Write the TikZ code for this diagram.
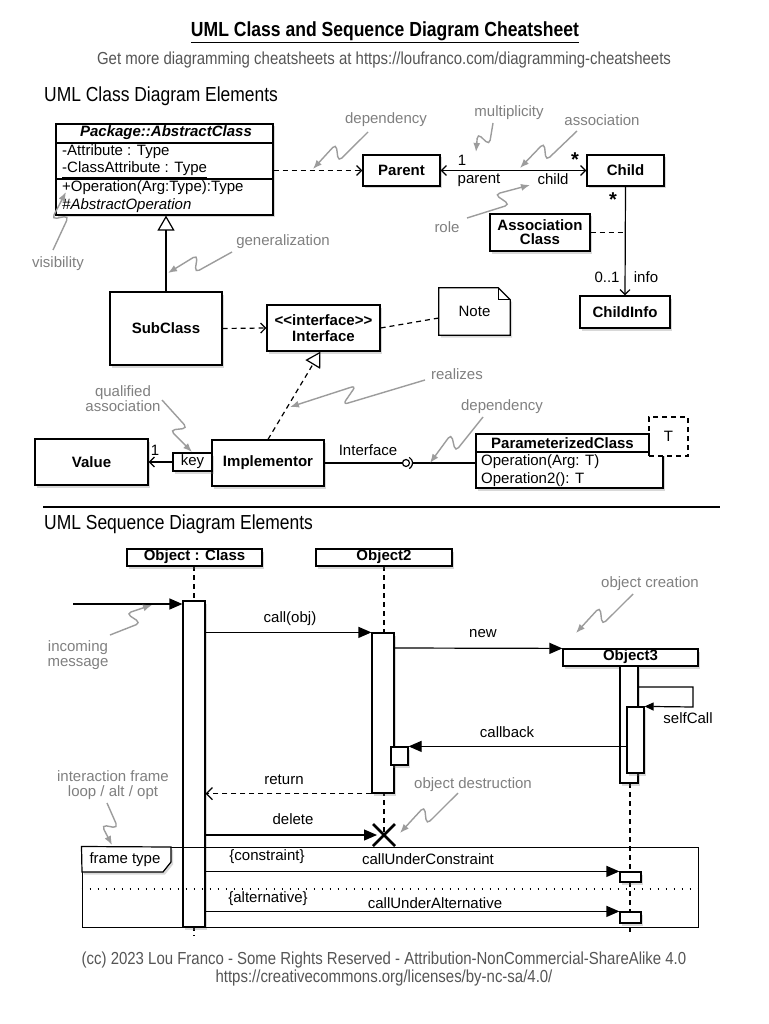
\documentclass[tikz,border=0pt]{standalone}
\usepackage{fontspec}
\setmainfont{Liberation Sans}
\newfontfamily\narrowfont{Liberation Sans}[FakeStretch=0.86]
\usetikzlibrary{arrows.meta,shadows,calc}
\definecolor{anngray}{HTML}{9C9C9C}
\definecolor{txtgray}{HTML}{808080}
\definecolor{subgray}{HTML}{555555}
\newcommand\fs[1]{\fontsize{#1}{#1}\selectfont}
\tikzset{
  sh/.style={drop shadow={shadow xshift=2pt,shadow yshift=-2.5pt,opacity=0.3}},
  cls/.style={draw, line width=1.2pt, fill=white, sh, font=\fs{15}\bfseries, align=center, inner sep=0pt},
  plain/.style={font=\fs{15}, inner sep=0pt},
  graylbl/.style={font=\fs{15}, text=txtgray, inner sep=0pt, align=center},
  annot/.style={draw=anngray, line width=1.4pt, rounded corners=5pt, -{Latex[length=9pt,width=7pt]}},
  conn/.style={line width=1.2pt},
  dsh/.style={dash pattern=on 5pt off 4pt},
  openv/.tip={Straight Barb[length=5pt,width=10pt]},
  filltri/.tip={Triangle[length=13pt,width=11pt]},
  hollow/.tip={Triangle[fill=white,length=15pt,width=17pt]},
}
\newcommand\annotate[4]{\draw[annot] (#1) -- ($(#1)!0.62!(#2)!8pt!#3:(#2)$) -- ($(#1)!0.5!(#2)!8pt!#4:(#2)$) -- (#2);}
\begin{document}
\begin{tikzpicture}[x=1pt,y=-1pt]
\useasboundingbox (0,0) rectangle (768,1024);
\fill[white] (0,0) rectangle (768,1024);

% titles
\node[font=\narrowfont\fs{20.4}\bfseries, inner sep=0pt] (title) at (385,32) {\underline{UML Class and Sequence Diagram Cheatsheet}};
\node[font=\narrowfont\fs{17.4}, text=subgray, inner sep=0pt] (sub) at (384,60) {Get more diagramming cheatsheets at https://loufranco.com/diagramming-cheatsheets};
\node[font=\narrowfont\fs{20.3}, anchor=west, inner sep=0pt] (h1) at (44,96) {UML Class Diagram Elements};

% ---------- class diagram ----------
\node[cls, minimum width=217pt, minimum height=91pt] (abs) at (164.5,169.5) {};
\draw[conn] (abs.west |- 0,143) -- (abs.east |- 0,143) (abs.west |- 0,179) -- (abs.east |- 0,179);
\node[font=\fs{15}\bfseries\itshape, inner sep=0pt] (absname) at (166,133) {Package::AbstractClass};
\node[plain, anchor=west] (a1) at (62,152) {-Attribute : Type};
\node[plain, anchor=west] (a2) at (62,170) {\underline{-ClassAttribute : Type}};
\node[plain, anchor=west] (a3) at (62,188) {+Operation(Arg:Type):Type};
\node[plain, anchor=west, font=\fs{15}\itshape] (a4) at (62,206) {\#AbstractOperation};

\node[cls, minimum width=77pt, minimum height=31pt] (parent) at (401.5,170.5) {Parent};
\node[cls, minimum width=77pt, minimum height=31pt] (child) at (625.5,170.5) {Child};
\node[cls, minimum width=100pt, minimum height=37pt] (assoc) at (540,232.5) {Association\\[-1pt]Class};
\node[cls, minimum width=90pt, minimum height=32pt] (childinfo) at (625,312) {ChildInfo};
\node[cls, minimum width=112pt, minimum height=73pt] (subclass) at (166,328.5) {SubClass};
\node[cls, minimum width=113pt, minimum height=46pt] (iface) at (323.5,328) {<\kern0pt<interface>\kern0pt>\\[1pt]Interface};
\node[minimum width=71pt, minimum height=47pt, inner sep=0pt] (note) at (474.5,311.5) {};
\draw[line width=1.2pt, fill=white, sh] (note.north west) -- ($(note.north east)+(-12,0)$) -- ($(note.north east)+(0,12)$) -- (note.south east) -- (note.south west) -- cycle;
\draw[line width=1pt] ($(note.north east)+(-12,0)$) -- ($(note.north east)+(-12,12)$) -- ($(note.north east)+(0,12)$);
\node[plain] (notetxt) at (note.center) {Note};
\node[cls, minimum width=112pt, minimum height=46pt] (impl) at (268,463) {Implementor};
\node[cls, minimum width=39pt, minimum height=18pt, font=\fs{15}] (key) at (192.5,462) {key};
\node[cls, minimum width=113pt, minimum height=46pt] (value) at (91.5,462) {Value};

\node[cls, minimum width=187pt, minimum height=54pt] (param) at (569.5,461) {};
\node[draw, line width=1.2pt, dsh, fill=white, minimum width=39pt, minimum height=39pt, font=\fs{15}, inner sep=0pt] (tbox) at (668.5,436.5) {T};
\draw[line width=1.2pt] (param.north west) rectangle (649,452);
\node[font=\fs{15}\bfseries, inner sep=0pt] (pname) at (562.5,443) {ParameterizedClass};
\node[plain, anchor=west] (op1) at (481,462) {Operation(Arg: T)};
\node[plain, anchor=west] (op2) at (481,480) {Operation2(): T};

% class connectors
\draw[conn, dsh, -openv] (abs.east |- parent.west) -- (parent.west);
\draw[conn, openv-openv] (parent.east) -- (child.west);
\node[plain] (m1) at (462,160) {1};
\node[plain] (rp) at (479,180) {parent};
\node[plain] (rc) at (553,179) {child};
\node[font=\fs{20}\bfseries, inner sep=0pt] (st1) at (575,160) {*};
\node[font=\fs{20}\bfseries, inner sep=0pt] (st2) at (613,200) {*};
\draw[conn, -openv] (child.south) -- (childinfo.north);
\node[plain] (m01) at (607,277) {0..1};
\node[plain] (minfo) at (646,277) {info};
\draw[conn, dsh] (assoc.east) -- (assoc.east -| child.south);
\draw[conn, -hollow] (subclass.north) -- (subclass.north |- abs.south);
\draw[conn, dsh, -openv] (subclass.east) -- (iface.west);
\draw[conn, dsh] (iface.east) -- (note.west |- 0,318);
\draw[conn, dsh, -hollow] (impl.north) -- ($(iface.south)+(-3,0)$);
\draw[conn, -openv] (key.west) -- (value.east);
\node[plain] (m2) at (155,450) {1};
\coordinate (ball) at (406,463);
\draw[conn] (impl.east) -- ($(ball)+(-3.5,0)$);
\draw[conn] (ball) circle[radius=3.5pt];
\draw[conn] ($(ball)+(60:6.5)$) arc[start angle=60, end angle=-60, radius=6.5];
\draw[conn] ($(ball)+(6.5,0)$) -- (param.west |- ball);
\node[plain] (ifl) at (368,450) {Interface};

% annotations (class)
\node[graylbl] (n1) at (386,120) {dependency};
\coordinate (n1a) at (368,132); \coordinate (n1b) at (313,169);
\annotate{n1a}{n1b}{90}{-90}
\node[graylbl] (n2) at (509,113) {multiplicity};
\coordinate (n2a) at (493,123); \coordinate (n2b) at (476,152);
\annotate{n2a}{n2b}{90}{-90}
\node[graylbl] (n3) at (602,120) {association};
\coordinate (n3a) at (577,131); \coordinate (n3b) at (520,168);
\annotate{n3a}{n3b}{90}{-90}
\node[graylbl] (n4) at (447,227) {role};
\coordinate (n4a) at (467,218); \coordinate (n4b) at (530,185);
\annotate{n4a}{n4b}{-90}{90}
\node[graylbl] (n5) at (58,264) {visibility};
\coordinate (n5a) at (53,250); \coordinate (n5b) at (66,192);
\annotate{n5a}{n5b}{-90}{90}
\node[graylbl] (n6) at (283,242) {generalization};
\coordinate (n6a) at (232,252); \coordinate (n6b) at (168,273);
\annotate{n6a}{n6b}{90}{-90}
\node[graylbl] (n7) at (457,374) {realizes};
\coordinate (n7a) at (425,380); \coordinate (n7b) at (290,407);
\annotate{n7a}{n7b}{90}{-90}
\node[graylbl] (n8) at (123,399) {qualified\\association};
\coordinate (n8a) at (162,400); \coordinate (n8b) at (192,452);
\annotate{n8a}{n8b}{90}{-90}
\node[graylbl] (n9) at (502,407) {dependency};
\coordinate (n9a) at (483,417); \coordinate (n9b) at (430,463);
\annotate{n9a}{n9b}{90}{-90}

% separator
\coordinate (sepL) at (43,507); \coordinate (sepR) at (720,507);
\draw[line width=2pt] (sepL) -- (sepR);
\node[font=\narrowfont\fs{20.3}, anchor=west, inner sep=0pt] (h2) at (44,524) {UML Sequence Diagram Elements};

% ---------- sequence diagram ----------
\coordinate (xdel) at (384,835);
\draw[conn, dsh] (194,566) -- (194,936);
\draw[conn, dsh] (384,566) -- (xdel);
\draw[conn, dsh] (630,666) -- (630,933);

\node[cls, minimum width=135pt, minimum height=17pt] (o1) at (194.5,557.5) {\underline{Object : Class}};
\node[cls, minimum width=136pt, minimum height=17pt] (o2) at (384,557.5) {\underline{Object2}};
\node[cls, minimum width=135pt, minimum height=17pt] (o3) at (630.5,657.5) {\underline{Object3}};
\node[cls, minimum width=22pt, minimum height=326pt] (act1) at (194,764) {};
\node[cls, minimum width=22pt, minimum height=160pt] (act2) at (383,713) {};
\node[cls, minimum width=17pt, minimum height=18pt] (act2b) at (399.5,756) {};
\node[cls, minimum width=18pt, minimum height=117pt] (act3) at (629,724.5) {};
\node[cls, minimum width=17pt, minimum height=66pt] (act3b) at (635.5,740) {};
\node[cls, minimum width=21pt, minimum height=10pt] (c1) at (630.5,877) {};
\node[cls, minimum width=21pt, minimum height=11pt] (c2) at (630.5,917.5) {};

% frame
\node[draw, line width=1pt, minimum width=616pt, minimum height=80pt, inner sep=0pt] (frame) at (390,887) {};
\draw[line width=1.5pt, dash pattern=on 1.5pt off 6.5pt] (frame.west |- 0,889) -- (frame.east |- 0,889);
\draw[line width=1.2pt, fill=white, sh] (frame.north west) -- (171,847) -- (171,862) -- (163,872) -- (82,872) -- cycle;
\node[plain] (ftype) at (125,860) {frame type};

% messages
\coordinate (inc) at (73,604);
\draw[conn, -filltri] (inc) -- (inc -| act1.west);
\draw[conn, -filltri] (act1.east |- act2.north) -- (act2.north west);
\node[plain] (l1) at (290,619) {call(obj)};
\draw[conn, -filltri] (act2.east |- 0,648) -- (o3.north west);
\node[plain] (l2) at (483,634) {new};
\draw[conn, -{Triangle[length=9pt,width=8pt]}] (act3.east |- 0,687) -- (693,687) -- (693,707) -- (act3b.north east);
\node[plain] (l3) at (688,718) {selfCall};
\draw[conn, -filltri] (act3b.west |- act2b.north) -- (act2b.north east);
\node[plain] (l4) at (507,732) {callback};
\draw[conn, dsh, -{Straight Barb[length=6pt,width=12pt]}] (act2.south west) -- (act1.east |- act2.south);
\node[plain] (l5) at (284,780) {return};
\draw[conn, -filltri] (act1.east |- xdel) -- ($(xdel)+(-7,0)$);
\node[plain] (l6) at (293,819) {delete};
\draw[line width=2.5pt] ($(xdel)+(-11,-11)$) -- ($(xdel)+(11,11)$) ($(xdel)+(-11,11)$) -- ($(xdel)+(11,-11)$);
\draw[conn, -filltri] (act1.east |- c1.north) -- (c1.north west);
\node[plain] (l7) at (267,857) {\{constraint\}};
\node[plain] (l8) at (428,859) {callUnderConstraint};
\draw[conn, -filltri] (act1.east |- c2.north) -- (c2.north west);
\node[plain] (l9) at (268,899) {\{alternative\}};
\node[plain] (l10) at (435,903) {callUnderAlternative};

% annotations (sequence)
\node[graylbl] (s1) at (650,584) {object creation};
\coordinate (s1a) at (633,594); \coordinate (s1b) at (576,633);
\annotate{s1a}{s1b}{90}{-90}
\node[graylbl] (s2) at (78,655) {incoming\\message};
\coordinate (s2a) at (110,635); \coordinate (s2b) at (152,605);
\annotate{s2a}{s2b}{-90}{90}
\node[graylbl] (s3) at (473,785) {object destruction};
\coordinate (s3a) at (458,793); \coordinate (s3b) at (400,833);
\annotate{s3a}{s3b}{90}{-90}
\node[graylbl] (s4) at (113,785) {interaction frame\\loop / alt / opt};
\coordinate (s4a) at (107,803); \coordinate (s4b) at (112,845);
\annotate{s4a}{s4b}{90}{-90}

% footer
\node[font=\narrowfont\fs{17.4}, text=subgray, inner sep=0pt, align=center] (foot) at (384,969) {(cc) 2023 Lou Franco - Some Rights Reserved - Attribution-NonCommercial-ShareAlike 4.0\\[1pt]https://creativecommons.org/licenses/by-nc-sa/4.0/};
\end{tikzpicture}
\end{document}
